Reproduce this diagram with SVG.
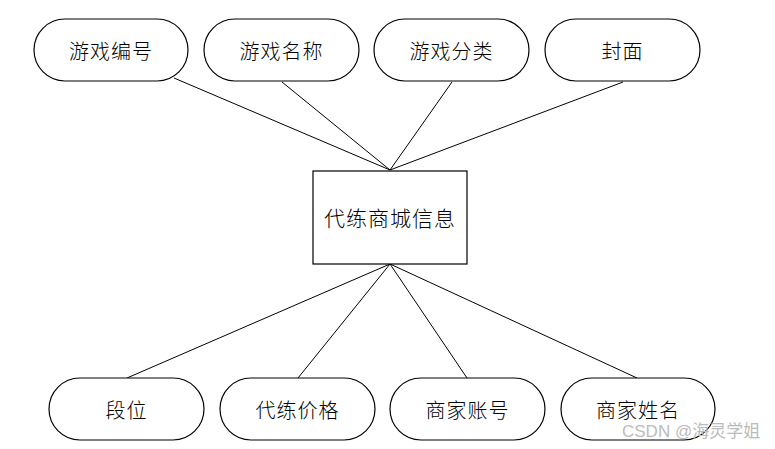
<svg xmlns="http://www.w3.org/2000/svg" width="775" height="449" viewBox="0 0 775 449">
<style>
.attr{fill:#fff;stroke:#000;stroke-width:1.2}
.ent{fill:#fff;stroke:#000;stroke-width:1.2}
.t{font-family:"Noto Sans CJK SC","Liberation Serif",serif;font-size:20px;font-weight:300;fill:#000;text-anchor:middle;dominant-baseline:central}
.conn line{stroke:#000;stroke-width:1}
.wm{font-family:"Liberation Sans","Noto Sans CJK SC",sans-serif;font-size:17px;fill:#bbb}
</style>
<rect width="775" height="449" fill="#fff"/>
<g id="connectors" class="conn">
<line x1="174" y1="78" x2="390" y2="170"/>
<line x1="282" y1="82" x2="390" y2="170"/>
<line x1="452" y1="82" x2="390" y2="170"/>
<line x1="623" y1="82" x2="390" y2="170"/>
<line x1="127" y1="378" x2="390" y2="264"/>
<line x1="298" y1="378" x2="390" y2="264"/>
<line x1="467" y1="378" x2="390" y2="264"/>
<line x1="637" y1="378" x2="390" y2="264"/>
</g>
<g id="entity">
<rect class="ent" x="313" y="171" width="154" height="93"/>
<text class="t" x="390" y="217" style="font-size:21px;letter-spacing:1px">代练商城信息</text>
</g>
<g id="a1"><rect class="attr" x="34" y="19" width="154" height="62" rx="31"/><text class="t" x="111" y="50" style="letter-spacing:1px">游戏编号</text></g>
<g id="a2"><rect class="attr" x="204" y="19" width="155" height="62" rx="31"/><text class="t" x="281.5" y="50" style="letter-spacing:1px">游戏名称</text></g>
<g id="a3"><rect class="attr" x="374" y="19" width="155" height="62" rx="31"/><text class="t" x="451.5" y="50" style="letter-spacing:1px">游戏分类</text></g>
<g id="a4"><rect class="attr" x="545" y="19" width="155" height="62" rx="31"/><text class="t" x="622.5" y="50" style="letter-spacing:1px">封面</text></g>
<g id="b1"><rect class="attr" x="49" y="378" width="155" height="62" rx="31"/><text class="t" x="126.5" y="409" style="letter-spacing:1px">段位</text></g>
<g id="b2"><rect class="attr" x="220" y="378" width="155" height="62" rx="31"/><text class="t" x="297.5" y="409" style="letter-spacing:1px">代练价格</text></g>
<g id="b3"><rect class="attr" x="390" y="378" width="155" height="62" rx="31"/><text class="t" x="467.5" y="409" style="letter-spacing:1px">商家账号</text></g>
<g id="b4"><rect class="attr" x="561" y="378" width="154" height="62" rx="31"/><text class="t" x="638" y="409" style="letter-spacing:1px">商家姓名</text></g>
<text class="wm" x="622" y="437">CSDN @海灵学姐</text>
</svg>
